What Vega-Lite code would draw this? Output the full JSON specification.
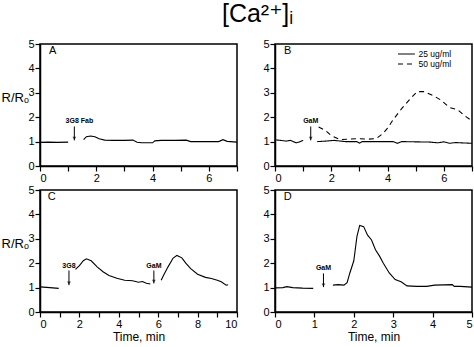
{
  "$schema": "https://vega.github.io/schema/vega-lite/v6.json",
  "background": "white",
  "padding": {"left": 0, "top": 2, "right": 2, "bottom": 0},
  "title": {"text": "[Ca²⁺]ᵢ", "fontSize": 25, "fontWeight": "normal", "font": "Liberation Sans, DejaVu Sans", "anchor": "middle", "color": "black", "offset": 10, "dx": 20},
  "datasets": {
    "lines": [
      {"p":"A","c":"25 ug/ml","s":"1","x":0,"y":0.97},{"p":"A","c":"25 ug/ml","s":"1","x":0.3,"y":0.98},{"p":"A","c":"25 ug/ml","s":"1","x":0.6,"y":0.97},{"p":"A","c":"25 ug/ml","s":"1","x":1.0,"y":0.98},
      {"p":"A","c":"25 ug/ml","s":"2","x":1.55,"y":1.08},{"p":"A","c":"25 ug/ml","s":"2","x":1.65,"y":1.2},{"p":"A","c":"25 ug/ml","s":"2","x":1.8,"y":1.23},{"p":"A","c":"25 ug/ml","s":"2","x":1.95,"y":1.2},{"p":"A","c":"25 ug/ml","s":"2","x":2.1,"y":1.12},{"p":"A","c":"25 ug/ml","s":"2","x":2.3,"y":1.06},{"p":"A","c":"25 ug/ml","s":"2","x":2.6,"y":1.05},{"p":"A","c":"25 ug/ml","s":"2","x":3.0,"y":1.05},{"p":"A","c":"25 ug/ml","s":"2","x":3.3,"y":1.06},{"p":"A","c":"25 ug/ml","s":"2","x":3.45,"y":0.97},{"p":"A","c":"25 ug/ml","s":"2","x":3.6,"y":0.95},{"p":"A","c":"25 ug/ml","s":"2","x":4.0,"y":0.95},{"p":"A","c":"25 ug/ml","s":"2","x":4.08,"y":1.03},{"p":"A","c":"25 ug/ml","s":"2","x":4.3,"y":1.05},{"p":"A","c":"25 ug/ml","s":"2","x":4.8,"y":1.05},{"p":"A","c":"25 ug/ml","s":"2","x":5.2,"y":1.06},{"p":"A","c":"25 ug/ml","s":"2","x":5.35,"y":1.0},{"p":"A","c":"25 ug/ml","s":"2","x":5.8,"y":1.0},{"p":"A","c":"25 ug/ml","s":"2","x":6.35,"y":1.0},{"p":"A","c":"25 ug/ml","s":"2","x":6.5,"y":1.08},{"p":"A","c":"25 ug/ml","s":"2","x":6.65,"y":1.01},{"p":"A","c":"25 ug/ml","s":"2","x":7.0,"y":0.98},

      {"p":"B","c":"25 ug/ml","s":"1","x":0,"y":1.07},{"p":"B","c":"25 ug/ml","s":"1","x":0.2,"y":1.05},{"p":"B","c":"25 ug/ml","s":"1","x":0.4,"y":1.02},{"p":"B","c":"25 ug/ml","s":"1","x":0.55,"y":1.05},{"p":"B","c":"25 ug/ml","s":"1","x":0.75,"y":0.95},{"p":"B","c":"25 ug/ml","s":"1","x":0.9,"y":1.0},{"p":"B","c":"25 ug/ml","s":"1","x":1.0,"y":1.05},
      {"p":"B","c":"25 ug/ml","s":"2","x":1.5,"y":1.0},{"p":"B","c":"25 ug/ml","s":"2","x":1.8,"y":1.02},{"p":"B","c":"25 ug/ml","s":"2","x":2.1,"y":1.05},{"p":"B","c":"25 ug/ml","s":"2","x":2.5,"y":1.0},{"p":"B","c":"25 ug/ml","s":"2","x":2.9,"y":1.0},{"p":"B","c":"25 ug/ml","s":"2","x":3.0,"y":0.94},{"p":"B","c":"25 ug/ml","s":"2","x":3.1,"y":1.0},{"p":"B","c":"25 ug/ml","s":"2","x":4.2,"y":1.0},{"p":"B","c":"25 ug/ml","s":"2","x":4.35,"y":0.93},{"p":"B","c":"25 ug/ml","s":"2","x":4.5,"y":1.0},{"p":"B","c":"25 ug/ml","s":"2","x":5.5,"y":0.98},{"p":"B","c":"25 ug/ml","s":"2","x":5.8,"y":0.95},{"p":"B","c":"25 ug/ml","s":"2","x":6.0,"y":0.99},{"p":"B","c":"25 ug/ml","s":"2","x":6.2,"y":0.93},{"p":"B","c":"25 ug/ml","s":"2","x":6.4,"y":0.96},{"p":"B","c":"25 ug/ml","s":"2","x":7.0,"y":0.93},
      {"p":"B","c":"50 ug/ml","s":"3","x":1.55,"y":1.6},{"p":"B","c":"50 ug/ml","s":"3","x":1.8,"y":1.45},{"p":"B","c":"50 ug/ml","s":"3","x":2.0,"y":1.25},{"p":"B","c":"50 ug/ml","s":"3","x":2.3,"y":1.08},{"p":"B","c":"50 ug/ml","s":"3","x":2.6,"y":1.1},{"p":"B","c":"50 ug/ml","s":"3","x":3.0,"y":1.12},{"p":"B","c":"50 ug/ml","s":"3","x":3.3,"y":1.1},{"p":"B","c":"50 ug/ml","s":"3","x":3.6,"y":1.12},{"p":"B","c":"50 ug/ml","s":"3","x":3.85,"y":1.35},{"p":"B","c":"50 ug/ml","s":"3","x":4.0,"y":1.55},{"p":"B","c":"50 ug/ml","s":"3","x":4.2,"y":1.9},{"p":"B","c":"50 ug/ml","s":"3","x":4.5,"y":2.35},{"p":"B","c":"50 ug/ml","s":"3","x":4.8,"y":2.75},{"p":"B","c":"50 ug/ml","s":"3","x":5.05,"y":3.05},{"p":"B","c":"50 ug/ml","s":"3","x":5.3,"y":3.05},{"p":"B","c":"50 ug/ml","s":"3","x":5.6,"y":2.9},{"p":"B","c":"50 ug/ml","s":"3","x":5.9,"y":2.7},{"p":"B","c":"50 ug/ml","s":"3","x":6.2,"y":2.4},{"p":"B","c":"50 ug/ml","s":"3","x":6.5,"y":2.3},{"p":"B","c":"50 ug/ml","s":"3","x":6.75,"y":2.05},{"p":"B","c":"50 ug/ml","s":"3","x":7.0,"y":1.85},

      {"p":"C","c":"25 ug/ml","s":"1","x":0,"y":1.03},{"p":"C","c":"25 ug/ml","s":"1","x":0.5,"y":1.0},{"p":"C","c":"25 ug/ml","s":"1","x":0.95,"y":0.97},
      {"p":"C","c":"25 ug/ml","s":"2","x":1.8,"y":1.75},{"p":"C","c":"25 ug/ml","s":"2","x":2.0,"y":1.9},{"p":"C","c":"25 ug/ml","s":"2","x":2.2,"y":2.1},{"p":"C","c":"25 ug/ml","s":"2","x":2.35,"y":2.18},{"p":"C","c":"25 ug/ml","s":"2","x":2.6,"y":2.1},{"p":"C","c":"25 ug/ml","s":"2","x":2.9,"y":1.85},{"p":"C","c":"25 ug/ml","s":"2","x":3.2,"y":1.65},{"p":"C","c":"25 ug/ml","s":"2","x":3.5,"y":1.5},{"p":"C","c":"25 ug/ml","s":"2","x":3.9,"y":1.38},{"p":"C","c":"25 ug/ml","s":"2","x":4.3,"y":1.3},{"p":"C","c":"25 ug/ml","s":"2","x":4.7,"y":1.28},{"p":"C","c":"25 ug/ml","s":"2","x":5.0,"y":1.22},{"p":"C","c":"25 ug/ml","s":"2","x":5.2,"y":1.25},{"p":"C","c":"25 ug/ml","s":"2","x":5.4,"y":1.18},{"p":"C","c":"25 ug/ml","s":"2","x":5.6,"y":1.15},
      {"p":"C","c":"25 ug/ml","s":"3","x":6.15,"y":1.3},{"p":"C","c":"25 ug/ml","s":"3","x":6.3,"y":1.55},{"p":"C","c":"25 ug/ml","s":"3","x":6.5,"y":1.85},{"p":"C","c":"25 ug/ml","s":"3","x":6.75,"y":2.2},{"p":"C","c":"25 ug/ml","s":"3","x":6.95,"y":2.32},{"p":"C","c":"25 ug/ml","s":"3","x":7.2,"y":2.22},{"p":"C","c":"25 ug/ml","s":"3","x":7.4,"y":2.0},{"p":"C","c":"25 ug/ml","s":"3","x":7.65,"y":1.78},{"p":"C","c":"25 ug/ml","s":"3","x":8.0,"y":1.55},{"p":"C","c":"25 ug/ml","s":"3","x":8.4,"y":1.42},{"p":"C","c":"25 ug/ml","s":"3","x":8.7,"y":1.37},{"p":"C","c":"25 ug/ml","s":"3","x":9.0,"y":1.3},{"p":"C","c":"25 ug/ml","s":"3","x":9.2,"y":1.24},{"p":"C","c":"25 ug/ml","s":"3","x":9.45,"y":1.1},{"p":"C","c":"25 ug/ml","s":"3","x":9.55,"y":1.12},

      {"p":"D","c":"25 ug/ml","s":"1","x":0,"y":0.99},{"p":"D","c":"25 ug/ml","s":"1","x":0.2,"y":1.0},{"p":"D","c":"25 ug/ml","s":"1","x":0.3,"y":1.04},{"p":"D","c":"25 ug/ml","s":"1","x":0.45,"y":1.0},{"p":"D","c":"25 ug/ml","s":"1","x":0.7,"y":0.98},{"p":"D","c":"25 ug/ml","s":"1","x":0.97,"y":0.97},
      {"p":"D","c":"25 ug/ml","s":"2","x":1.47,"y":1.1},{"p":"D","c":"25 ug/ml","s":"2","x":1.6,"y":1.12},{"p":"D","c":"25 ug/ml","s":"2","x":1.75,"y":1.1},{"p":"D","c":"25 ug/ml","s":"2","x":1.83,"y":1.2},{"p":"D","c":"25 ug/ml","s":"2","x":1.9,"y":1.6},{"p":"D","c":"25 ug/ml","s":"2","x":2.0,"y":2.1},{"p":"D","c":"25 ug/ml","s":"2","x":2.08,"y":3.1},{"p":"D","c":"25 ug/ml","s":"2","x":2.15,"y":3.55},{"p":"D","c":"25 ug/ml","s":"2","x":2.25,"y":3.5},{"p":"D","c":"25 ug/ml","s":"2","x":2.35,"y":3.15},{"p":"D","c":"25 ug/ml","s":"2","x":2.45,"y":2.95},{"p":"D","c":"25 ug/ml","s":"2","x":2.55,"y":2.55},{"p":"D","c":"25 ug/ml","s":"2","x":2.65,"y":2.3},{"p":"D","c":"25 ug/ml","s":"2","x":2.75,"y":2.0},{"p":"D","c":"25 ug/ml","s":"2","x":2.9,"y":1.6},{"p":"D","c":"25 ug/ml","s":"2","x":3.05,"y":1.33},{"p":"D","c":"25 ug/ml","s":"2","x":3.2,"y":1.24},{"p":"D","c":"25 ug/ml","s":"2","x":3.35,"y":1.07},{"p":"D","c":"25 ug/ml","s":"2","x":3.6,"y":1.05},{"p":"D","c":"25 ug/ml","s":"2","x":3.85,"y":1.05},{"p":"D","c":"25 ug/ml","s":"2","x":4.05,"y":1.1},{"p":"D","c":"25 ug/ml","s":"2","x":4.5,"y":1.12},{"p":"D","c":"25 ug/ml","s":"2","x":4.55,"y":1.05},{"p":"D","c":"25 ug/ml","s":"2","x":4.7,"y":1.05},{"p":"D","c":"25 ug/ml","s":"2","x":5.0,"y":1.02}
    ],
    "arrows": [
      {"p":"A","x":1.22,"y":1.62,"bot":1.05,"label":"3G8 Fab","lx":1.4},
      {"p":"B","x":1.27,"y":1.62,"bot":1.05,"label":"GaM","lx":1.27},
      {"p":"C","x":1.47,"y":1.7,"bot":1.1,"label":"3G8","lx":1.47},
      {"p":"C","x":5.78,"y":1.7,"bot":1.17,"label":"GaM","lx":5.78},
      {"p":"D","x":1.23,"y":1.58,"bot":1.02,"label":"GaM","lx":1.23}
    ],
    "letters": [
      {"p":"A","x":0.45,"y":4.7,"label":"A"},
      {"p":"B","x":0.45,"y":4.7,"label":"B"},
      {"p":"C","x":0.6,"y":4.7,"label":"C"},
      {"p":"D","x":0.32,"y":4.7,"label":"D"}
    ],
    "key": [
      {"c":"25 ug/ml","x":4.37,"x2":4.97,"tx":5.1,"y":4.59},
      {"c":"50 ug/ml","x":4.37,"x2":4.97,"tx":5.1,"y":4.18}
    ]
  },
  "config": {
    "view": {"stroke": "black", "strokeWidth": 1.5},
    "axis": {"grid": false, "labelOverlap": false, "labelBound": false, "domainColor": "black", "domainWidth": 1.5, "tickColor": "black", "tickSize": 5, "tickWidth": 1.2, "labelColor": "black", "labelFont": "Liberation Sans", "labelFontSize": 11, "labelPadding": 1, "titleFont": "Liberation Sans", "titleFontWeight": "normal", "titleColor": "black", "titleFontSize": 12},
    "text": {"font": "Liberation Sans", "color": "black"}
  },
  "bounds": "flush",
  "spacing": {"row": 24, "column": 38},
  "columns": 2,
  "concat": [
    {
      "width": 197, "height": 122,
      "encoding": {
        "x": {"field": "x", "type": "quantitative", "scale": {"domain": [0, 7], "nice": false}, "axis": {"values": [0,1,2,3,4,5,6,7], "labelOverlap": false, "labelExpr": "datum.value % 2 == 0 ? datum.label : ''", "title": null}},
        "y": {"field": "y", "type": "quantitative", "scale": {"domain": [0, 5], "nice": false}, "axis": {"values": [0,1,2,3,4,5], "labelOverlap": false, "labelExpr": "datum.label", "title": "R/Rₒ", "titleAngle": 0, "titleAlign": "left", "titleBaseline": "middle", "titleX": -39, "titleY": 53, "titleFontSize": 13}}
      },
      "layer": [
        {"data": {"name": "lines"}, "transform": [{"filter": "datum.p=='A'"}],
         "mark": {"type": "line", "color": "black", "strokeWidth": 1.1},
         "encoding": {"detail": {"field": "s"}, "order": {"field": "x", "type": "quantitative"}}},
        {"data": {"name": "arrows"}, "transform": [{"filter": "datum.p=='A'"}], "mark": {"type": "rule", "color": "black", "strokeWidth": 1}, "encoding": {"y2": {"field": "bot"}}},
        {"data": {"name": "arrows"}, "transform": [{"filter": "datum.p=='A'"}, {"calculate": "datum.bot", "as": "y"}], "mark": {"type": "point", "shape": "triangle-down", "filled": true, "color": "black", "size": 14, "yOffset": -2}, "encoding": {}},
        {"data": {"name": "arrows"}, "transform": [{"filter": "datum.p=='A'"}], "mark": {"type": "text", "fontSize": 7, "fontWeight": "bold", "baseline": "bottom", "dy": -2}, "encoding": {"x": {"field": "lx", "type": "quantitative"}, "text": {"field": "label"}}},
        {"data": {"name": "letters"}, "transform": [{"filter": "datum.p=='A'"}], "mark": {"type": "text", "fontSize": 11}, "encoding": {"text": {"field": "label"}}}
      ]
    },
    {
      "width": 197, "height": 122,
      "encoding": {
        "x": {"field": "x", "type": "quantitative", "scale": {"domain": [0, 7], "nice": false}, "axis": {"values": [0,1,2,3,4,5,6,7], "labelOverlap": false, "labelExpr": "datum.value % 2 == 0 ? datum.label : ''", "title": null}},
        "y": {"field": "y", "type": "quantitative", "scale": {"domain": [0, 5], "nice": false}, "axis": {"values": [0,1,2,3,4,5], "labelOverlap": false, "labelExpr": "datum.label", "title": null}}
      },
      "layer": [
        {"data": {"name": "lines"}, "transform": [{"filter": "datum.p=='B'"}],
         "mark": {"type": "line", "color": "black", "strokeWidth": 1.1},
         "encoding": {
           "strokeDash": {"field": "c", "type": "nominal", "scale": {"domain": ["25 ug/ml", "50 ug/ml"], "range": [[1, 0], [5, 4]]}, "legend": null},
           "detail": {"field": "s"}, "order": {"field": "x", "type": "quantitative"}}},
        {"data": {"name": "key"}, "mark": {"type": "rule", "color": "black", "strokeWidth": 1}, "encoding": {"x2": {"field": "x2"}, "strokeDash": {"field": "c", "type": "nominal", "legend": null}}},
        {"data": {"name": "key"}, "mark": {"type": "text", "fontSize": 8.5, "align": "left", "baseline": "middle"}, "encoding": {"x": {"field": "tx", "type": "quantitative"}, "text": {"field": "c"}}},
        {"data": {"name": "arrows"}, "transform": [{"filter": "datum.p=='B'"}], "mark": {"type": "rule", "color": "black", "strokeWidth": 1}, "encoding": {"y2": {"field": "bot"}}},
        {"data": {"name": "arrows"}, "transform": [{"filter": "datum.p=='B'"}, {"calculate": "datum.bot", "as": "y"}], "mark": {"type": "point", "shape": "triangle-down", "filled": true, "color": "black", "size": 14, "yOffset": -2}, "encoding": {}},
        {"data": {"name": "arrows"}, "transform": [{"filter": "datum.p=='B'"}], "mark": {"type": "text", "fontSize": 7, "fontWeight": "bold", "baseline": "bottom", "dy": -2}, "encoding": {"x": {"field": "lx", "type": "quantitative"}, "text": {"field": "label"}}},
        {"data": {"name": "letters"}, "transform": [{"filter": "datum.p=='B'"}], "mark": {"type": "text", "fontSize": 11}, "encoding": {"text": {"field": "label"}}}
      ]
    },
    {
      "width": 197, "height": 122,
      "encoding": {
        "x": {"field": "x", "type": "quantitative", "scale": {"domain": [0, 10], "nice": false}, "axis": {"values": [0,1,2,3,4,5,6,7,8,9,10], "labelOverlap": false, "labelExpr": "datum.value % 2 == 0 ? datum.label : ''", "title": "Time, min", "titlePadding": 2}},
        "y": {"field": "y", "type": "quantitative", "scale": {"domain": [0, 5], "nice": false}, "axis": {"values": [0,1,2,3,4,5], "labelOverlap": false, "labelExpr": "datum.label", "title": "R/Rₒ", "titleAngle": 0, "titleAlign": "left", "titleBaseline": "middle", "titleX": -39, "titleY": 53, "titleFontSize": 13}}
      },
      "layer": [
        {"data": {"name": "lines"}, "transform": [{"filter": "datum.p=='C'"}],
         "mark": {"type": "line", "color": "black", "strokeWidth": 1.1},
         "encoding": {"detail": {"field": "s"}, "order": {"field": "x", "type": "quantitative"}}},
        {"data": {"name": "arrows"}, "transform": [{"filter": "datum.p=='C'"}], "mark": {"type": "rule", "color": "black", "strokeWidth": 1}, "encoding": {"y2": {"field": "bot"}}},
        {"data": {"name": "arrows"}, "transform": [{"filter": "datum.p=='C'"}, {"calculate": "datum.bot", "as": "y"}], "mark": {"type": "point", "shape": "triangle-down", "filled": true, "color": "black", "size": 14, "yOffset": -2}, "encoding": {}},
        {"data": {"name": "arrows"}, "transform": [{"filter": "datum.p=='C'"}], "mark": {"type": "text", "fontSize": 7, "fontWeight": "bold", "baseline": "bottom", "dy": -2}, "encoding": {"x": {"field": "lx", "type": "quantitative"}, "text": {"field": "label"}}},
        {"data": {"name": "letters"}, "transform": [{"filter": "datum.p=='C'"}], "mark": {"type": "text", "fontSize": 11}, "encoding": {"text": {"field": "label"}}}
      ]
    },
    {
      "width": 197, "height": 122,
      "encoding": {
        "x": {"field": "x", "type": "quantitative", "scale": {"domain": [0, 5], "nice": false}, "axis": {"values": [0,1,2,3,4,5], "labelOverlap": false, "labelExpr": "datum.label", "title": "Time, min", "titlePadding": 2}},
        "y": {"field": "y", "type": "quantitative", "scale": {"domain": [0, 5], "nice": false}, "axis": {"values": [0,1,2,3,4,5], "labelOverlap": false, "labelExpr": "datum.label", "title": null}}
      },
      "layer": [
        {"data": {"name": "lines"}, "transform": [{"filter": "datum.p=='D'"}],
         "mark": {"type": "line", "color": "black", "strokeWidth": 1.1},
         "encoding": {"detail": {"field": "s"}, "order": {"field": "x", "type": "quantitative"}}},
        {"data": {"name": "arrows"}, "transform": [{"filter": "datum.p=='D'"}], "mark": {"type": "rule", "color": "black", "strokeWidth": 1}, "encoding": {"y2": {"field": "bot"}}},
        {"data": {"name": "arrows"}, "transform": [{"filter": "datum.p=='D'"}, {"calculate": "datum.bot", "as": "y"}], "mark": {"type": "point", "shape": "triangle-down", "filled": true, "color": "black", "size": 14, "yOffset": -2}, "encoding": {}},
        {"data": {"name": "arrows"}, "transform": [{"filter": "datum.p=='D'"}], "mark": {"type": "text", "fontSize": 7, "fontWeight": "bold", "baseline": "bottom", "dy": -2}, "encoding": {"x": {"field": "lx", "type": "quantitative"}, "text": {"field": "label"}}},
        {"data": {"name": "letters"}, "transform": [{"filter": "datum.p=='D'"}], "mark": {"type": "text", "fontSize": 11}, "encoding": {"text": {"field": "label"}}}
      ]
    }
  ]
}
